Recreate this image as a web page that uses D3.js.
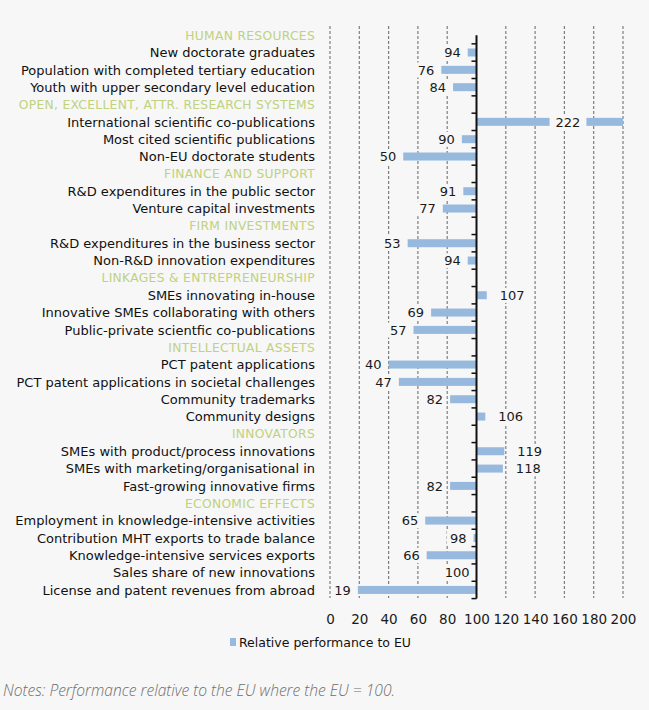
<!DOCTYPE html>
<html><head><meta charset="utf-8">
<script src="https://cdn.jsdelivr.net/npm/d3@7"></script>
<style>
html,body{margin:0;padding:0;background:#f7f7f7;}
svg{display:block;}
</style></head>
<body>
<svg id="chart" width="649" height="710"></svg>
<script>
const sections = ["HUMAN RESOURCES","OPEN, EXCELLENT, ATTR. RESEARCH SYSTEMS","FINANCE AND SUPPORT","FIRM INVESTMENTS","LINKAGES & ENTREPRENEURSHIP","INTELLECTUAL ASSETS","INNOVATORS","ECONOMIC EFFECTS"];
const indicators = ["New doctorate graduates","Population with completed tertiary education","Youth with upper secondary level education","International scientific co-publications","Most cited scientific publications","Non-EU doctorate students","R&D expenditures in the public sector","Venture capital investments","R&D expenditures in the business sector","Non-R&D innovation expenditures","SMEs innovating in-house","Innovative SMEs collaborating with others","Public-private scientfic co-publications","PCT patent applications","PCT patent applications in societal challenges","Community trademarks","Community designs","SMEs with product/process innovations","SMEs with marketing/organisational in","Fast-growing innovative firms","Employment in knowledge-intensive activities","Contribution MHT exports to trade balance","Knowledge-intensive services exports","Sales share of new innovations","License and patent revenues from abroad"];
const values = [94,76,84,222,90,50,91,77,53,94,107,69,57,40,47,82,106,119,118,82,65,98,66,100,19];
const sectionOf = [0,0,0,1,1,1,2,2,3,3,4,4,4,5,5,5,5,6,6,6,7,7,7,7,7];
const tickValues = [0,20,40,60,80,100,120,140,160,180,200];
const baseline = 100;
const legendLabel = "Relative performance to EU";
const note = "Notes: Performance relative to the EU where the EU = 100.";

// build rows
const rows = [];
let prev = -1;
indicators.forEach((name,i)=>{
  if(sectionOf[i]!==prev){ rows.push({type:"header",name:sections[sectionOf[i]],id:"h"+sectionOf[i]}); prev=sectionOf[i]; }
  rows.push({type:"item",name:name,value:values[i],id:"i"+i});
});

const svg = d3.select("#chart");
const x = d3.scaleLinear().domain([0,200]).range([330,623]);
const y = d3.scaleBand().domain(rows.map(r=>r.id)).range([26.5,598.6]).paddingInner(0).paddingOuter(0);
const bw = y.bandwidth();
const FONT = "'DejaVu Sans', Verdana, sans-serif";
const BAR = "#97b9de";

// gridlines
svg.append("g").selectAll("line").data(tickValues.filter(t=>t!==baseline)).join("line")
  .attr("x1",d=>x(d)).attr("x2",d=>x(d)).attr("y1",26).attr("y2",598)
  .attr("stroke","#7e7e7e").attr("stroke-width",1.2).attr("stroke-dasharray","3,2");

// bars
const items = rows.filter(r=>r.type==="item");
svg.append("g").selectAll("rect").data(items).join("rect")
  .attr("x",d=>x(Math.min(d.value,baseline)))
  .attr("width",d=>Math.abs(x(Math.min(d.value,200))-x(baseline)))
  .attr("y",d=>y(d.id)+bw/2-4).attr("height",8)
  .attr("fill",BAR);

// axis line at baseline
const axisTop = y(rows[0].id)+bw/2;
svg.append("line").attr("x1",x(baseline)).attr("x2",x(baseline)).attr("y1",axisTop).attr("y2",598.6)
  .attr("stroke","#111").attr("stroke-width",2);
svg.append("g").selectAll("line").data(rows.slice(1).map(r=>y(r.id)).concat([598.6])).join("line")
  .attr("x1",x(baseline)-5).attr("x2",x(baseline)).attr("y1",d=>d).attr("y2",d=>d)
  .attr("stroke","#111").attr("stroke-width",1.5);

// value labels
const lab = svg.append("g");
items.forEach(d=>{
  const cy = y(d.id)+bw/2;
  let tx, anchor, pad = 3;
  if(d.value>200){ tx = x(200)-55; anchor="middle"; pad = 6; }
  else if(d.value>baseline){ tx = x(d.value)+13; anchor="start"; }
  else { tx = x(d.value)-7; anchor="end"; }
  const t = lab.append("text").attr("x",tx).attr("y",cy).attr("dy","0.36em")
    .attr("text-anchor",anchor).attr("font-family",FONT).attr("font-size",13).attr("fill","#1a1a1a").text(d.value);
  const bb = t.node().getBBox();
  lab.insert("rect",()=>t.node()).attr("x",bb.x-pad).attr("y",bb.y).attr("width",bb.width+2*pad).attr("height",bb.height).attr("fill","#f7f7f7");
});

// category labels
svg.append("g").selectAll("text").data(rows).join("text")
  .attr("x",315).attr("y",d=>y(d.id)+bw/2).attr("dy","0.36em").attr("text-anchor","end")
  .attr("font-family",FONT)
  .attr("font-size",d=>d.type==="header"?12.3:13)
  .attr("letter-spacing",d=>d.type==="header"?"0.3px":null)
  .attr("fill",d=>d.type==="header"?"#c0d27e":"#111")
  .text(d=>d.name);

// x axis tick labels
const xAxis = d3.axisBottom(x).tickValues(tickValues).tickSize(0).tickPadding(0);
const ax = svg.append("g").attr("transform","translate(0,614)").call(xAxis);
ax.select(".domain").remove();
ax.selectAll("text").attr("font-family",FONT).attr("font-size",13.5).attr("fill","#1a1a1a");

// legend
svg.append("rect").attr("x",230).attr("y",638).attr("width",6).attr("height",8).attr("fill",BAR);
svg.append("text").attr("x",239).attr("y",642).attr("dy","0.36em").attr("font-family",FONT).attr("font-size",12.5).attr("fill","#111").text(legendLabel);

// note
svg.append("text").attr("x",3).attr("y",690).attr("dy","0.36em").attr("font-family","'Open Sans', sans-serif")
  .attr("font-style","italic").attr("font-weight",300).attr("font-size",15.6).attr("fill","#6e6e6e").text(note);
</script>
</body></html>
